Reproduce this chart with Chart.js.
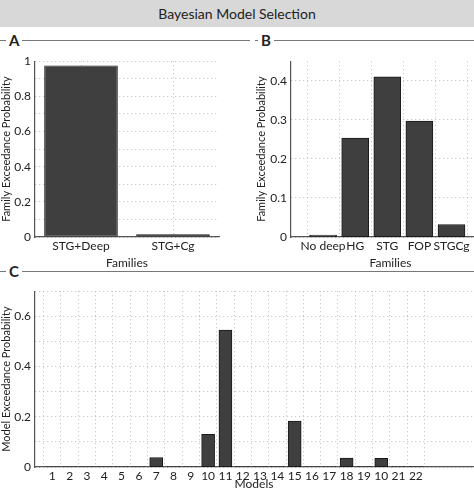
<!DOCTYPE html><html><head><script src="https://cdn.jsdelivr.net/npm/chart.js@4"></script>
<style>body{margin:0;width:474px;height:490px;overflow:hidden;position:relative;background:#fff;font-family:Lato,sans-serif}
.c{position:absolute}.hd{position:absolute;font-weight:bold;font-size:15px;color:#222;background:#fff;padding:0 3px}
.ln{position:absolute;height:1px;background:#777}</style></head><body>
<div style="position:absolute;left:0;top:0;width:474px;height:27px;background:#d8d8d8;text-align:center;line-height:27px;font-size:14px;color:#222">Bayesian Model Selection</div>
<div class="ln" style="left:0;top:40px;width:250px"></div><div class="hd" style="left:6px;top:31px">A</div>
<div class="ln" style="left:255px;top:40px;width:219px"></div><div class="hd" style="left:258px;top:31px">B</div>
<div class="ln" style="left:0;top:271px;width:474px"></div><div class="hd" style="left:6px;top:262px">C</div>
<div class="c" style="left:0;top:50px;width:225px;height:220px"><canvas id="a"></canvas></div>
<div class="c" style="left:255px;top:50px;width:235px;height:220px"><canvas id="b"></canvas></div>
<div class="c" style="left:0;top:280px;width:474px;height:215px"><canvas id="cc"></canvas></div>
<script>
const familiesA=["STG+Deep","STG+Cg"];
const valuesA=[0.975,0.015];
const familiesB=["No deep","HG","STG","FOP","STGCg"];
const valuesB=[0.005,0.253,0.41,0.297,0.032];
const modelLabels=["1","2","3","4","5","6","7","8","9","10","11","12","13","14","15","16","17","18","19","10","21","22"];
const valuesC=[0.002,0.002,0.002,0.002,0.002,0.002,0.038,0.003,0.002,0.13,0.545,0.003,0.003,0.003,0.183,0.002,0.002,0.036,0.003,0.035,0.003,0.003];
Chart.defaults.font.family="Lato, sans-serif";Chart.defaults.color="#222";Chart.defaults.animation=false;
const grid={color:"#aaa",drawTicks:false,lineWidth:0.8};
const border={display:true,color:"#555",width:1.2,dash:[1,3]};
const ds=(d,extra)=>Object.assign({data:d,backgroundColor:"#3f3f3f",borderColor:"#1a1a1a",borderWidth:1,borderSkipped:false},extra);
function yAx(max,title,w,fmt){return{min:0,max:max,border:border,grid:grid,afterFit:s=>{s.width=w},
 afterBuildTicks:s=>{s.ticks=s.ticks.filter(t=>Math.abs(t.value*10-Math.round(t.value*10))<1e-6)},
 title:{display:true,text:title,font:{size:11},padding:0},
 ticks:{stepSize:0.1,font:{size:12},padding:4,callback:fmt}};}
const even=v=>{const r=Math.round(v*10);return r%2===0?(r===0?"0":(r===10?"1":(v).toFixed(1))):"";};
const xTitle=t=>({display:true,text:t,font:{size:12},padding:0});
const plugins={legend:{display:false},tooltip:{enabled:false}};
new Chart(a,{type:"bar",data:{labels:familiesA,datasets:[ds(valuesA,{barPercentage:0.8,categoryPercentage:1})]},
 options:{responsive:true,maintainAspectRatio:false,plugins,layout:{padding:{top:3,right:6}},
 scales:{x:{border:border,grid:{...grid,offset:false},afterFit:s=>{s.height=33},title:xTitle("Families"),ticks:{font:{size:12},padding:2}},
 y:yAx(1,"Family Exceedance Probability",35,even)}}});
new Chart(b,{type:"bar",data:{datasets:[ds(valuesB.map((v,i)=>({x:i+1,y:v})),{barThickness:27})]},
 options:{responsive:true,maintainAspectRatio:false,plugins,layout:{padding:{top:5,right:0}},
 scales:{x:{type:"linear",offset:false,min:0,max:6.2,border:border,grid:grid,afterFit:s=>{s.height=33},title:xTitle("Families"),
  afterBuildTicks:s=>{s.ticks=familiesB.map((n,i)=>({value:i+1}))},ticks:{font:{size:12},padding:2,autoSkip:false,maxRotation:0,minRotation:0,callback:v=>familiesB[v-1]}},
 y:yAx(0.45,"Family Exceedance Probability",36,v=>{const r=Math.round(v*10);return r===0?"0":(v).toFixed(1)})}}});
new Chart(cc,{type:"bar",data:{datasets:[ds(valuesC.map((v,i)=>({x:i+1,y:v})),{barThickness:13})]},
 options:{responsive:true,maintainAspectRatio:false,plugins,layout:{padding:{top:4,right:1}},
 scales:{x:{type:"linear",offset:false,min:0,max:25.3,border:border,grid:grid,afterFit:s=>{s.height=28},title:{...xTitle("Models"),padding:{top:-3}},
  afterBuildTicks:s=>{s.ticks=modelLabels.map((n,i)=>({value:i+1}))},ticks:{font:{size:12},padding:2,autoSkip:false,maxRotation:0,minRotation:0,callback:v=>modelLabels[v-1]}},
 y:yAx(0.7,"Model Exceedance Probability",35,even)}}});
</script></body></html>
